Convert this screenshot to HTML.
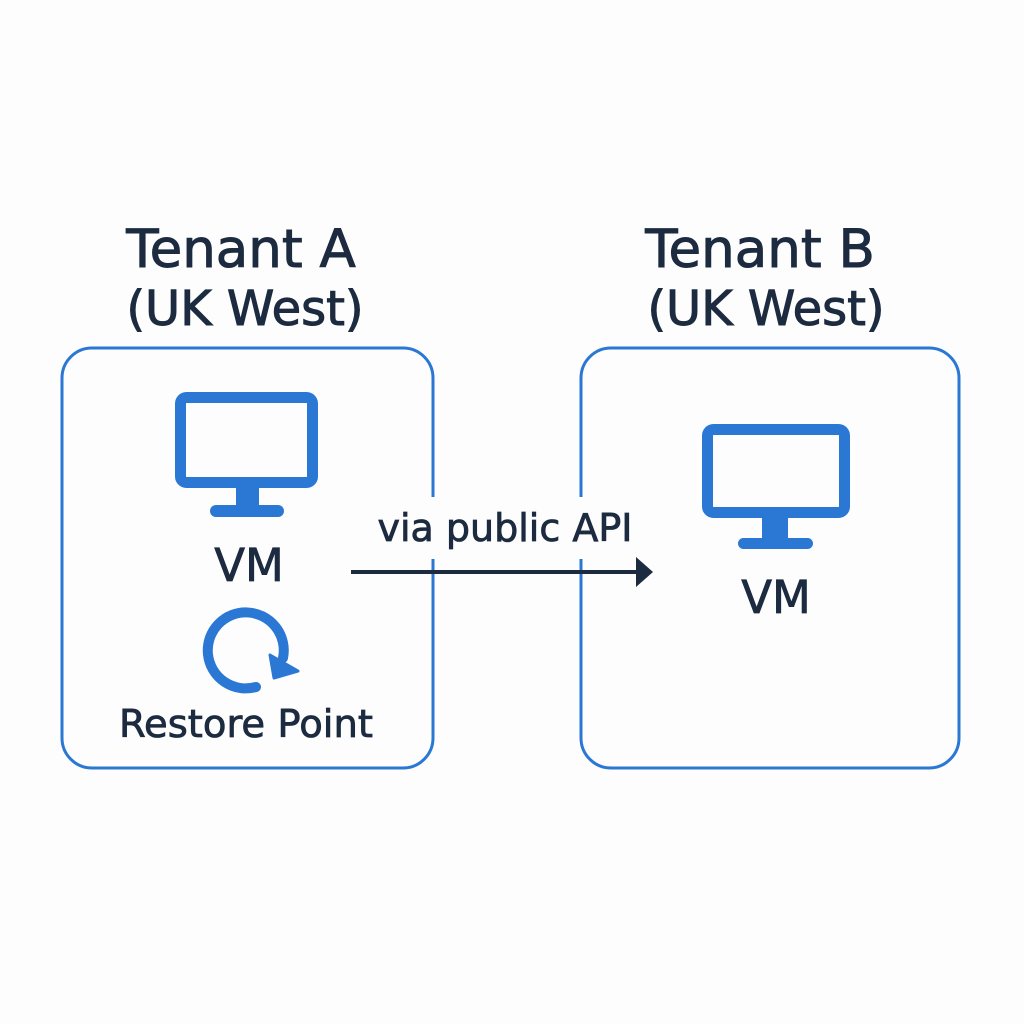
<!DOCTYPE html>
<html><head><style>
html,body{margin:0;padding:0;background:#fdfdfd;}
</style></head><body>
<svg width="1024" height="1024" viewBox="0 0 1024 1024" xmlns="http://www.w3.org/2000/svg" style="display:block">
<rect width="1024" height="1024" fill="#fdfdfd"/>
<g font-family="'DejaVu Sans','Liberation Sans',sans-serif" fill="#1c2b40" stroke="#1c2b40" stroke-width="1" text-anchor="middle">
<text x="241" y="267" font-size="53">Tenant A</text>
<text x="245" y="325" font-size="48">(UK West)</text>
<text x="760" y="267" font-size="53">Tenant B</text>
<text x="766" y="325" font-size="48">(UK West)</text>
</g>
<rect x="62" y="348" width="371" height="420" rx="30" fill="none" stroke="#2a78d4" stroke-width="3"/>
<rect x="581" y="348" width="378" height="420" rx="30" fill="none" stroke="#2a78d4" stroke-width="3"/>
<rect x="370" y="497" width="270" height="62" fill="#fdfdfd"/>
<!-- monitor A -->
<rect x="180.5" y="397.5" width="132" height="85" rx="6" fill="#fdfdfd" stroke="#2a78d4" stroke-width="11"/>
<rect x="236" y="485" width="23" height="22" fill="#2a78d4"/>
<rect x="210" y="505" width="74" height="12" rx="6" fill="#2a78d4"/>
<!-- monitor B -->
<rect x="707.5" y="429.5" width="137" height="83" rx="6" fill="#fdfdfd" stroke="#2a78d4" stroke-width="11"/>
<rect x="762" y="515" width="26" height="25" fill="#2a78d4"/>
<rect x="738" y="538" width="75" height="11" rx="5.5" fill="#2a78d4"/>
<!-- restore icon -->
<path d="M256 687 A38 38 0 1 1 283 658" fill="none" stroke="#2a78d4" stroke-width="10" stroke-linecap="round"/>
<polygon points="270,655 274,678 298,671" fill="#2a78d4" stroke="#2a78d4" stroke-width="3" stroke-linejoin="round"/>
<g font-family="'DejaVu Sans','Liberation Sans',sans-serif" fill="#1c2b40" stroke="#1c2b40" stroke-width="0.8" text-anchor="middle">
<text x="249" y="581" font-size="45">VM</text>
<text x="776" y="613" font-size="45">VM</text>
<text x="246" y="737" font-size="38.5">Restore Point</text>
<text x="505" y="541" font-size="38">via public API</text>
</g>
<line x1="351" y1="572" x2="640" y2="572" stroke="#1c2b40" stroke-width="4"/>
<polygon points="636,557 653,572 636,587" fill="#1c2b40"/>
</svg>
</body></html>
